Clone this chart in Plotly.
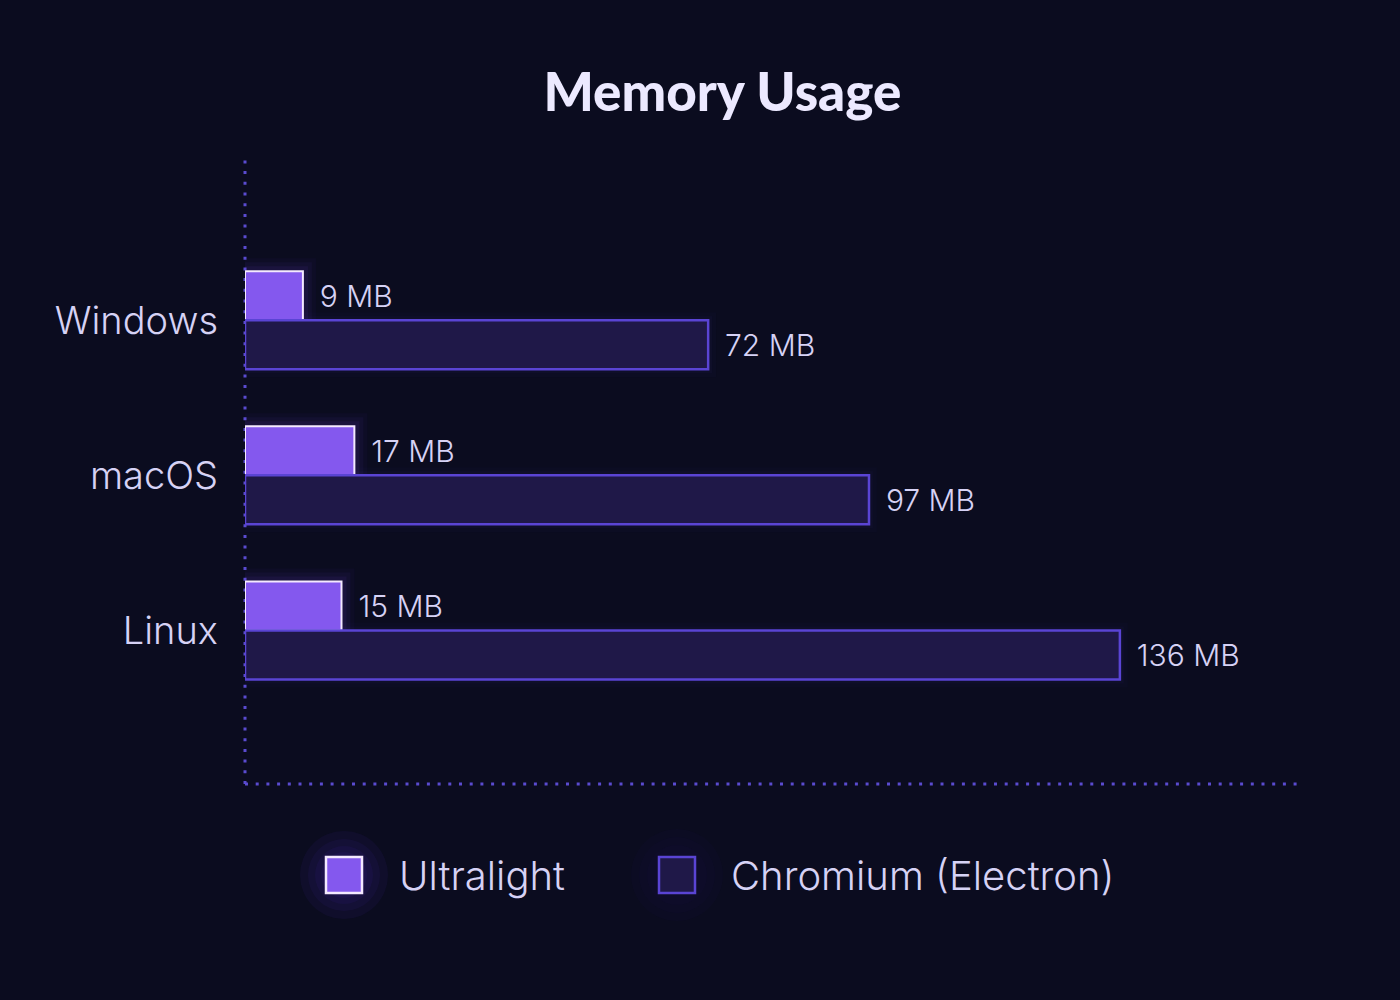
import plotly.graph_objects as go

categories = ["Windows", "macOS", "Linux"]
ultralight_mb = [9, 17, 15]
chromium_mb = [72, 97, 136]
series_names = ["Ultralight", "Chromium (Electron)"]

BG = "#0b0c1f"
TXT = "#d6d2f5"
UL_FILL = "#8458ee"
UL_LINE = "#f4e9ff"
CH_FILL = "#1f1848"
CH_LINE = "#5a44d4"
FONT = "Inter"

fig = go.Figure()

# soft glow layers (same slot as the real bars via offsetgroup)
for w, op in [(26, 0.035), (18, 0.05), (10, 0.07)]:
    fig.add_trace(go.Bar(
        y=categories, x=ultralight_mb, orientation="h", offsetgroup="ul",
        marker=dict(color="rgba(0,0,0,0)", line=dict(color=f"rgba(125,70,245,{op})", width=w)),
        hoverinfo="skip", showlegend=False, cliponaxis=False,
    ))
for w, op in [(16, 0.025), (8, 0.04)]:
    fig.add_trace(go.Bar(
        y=categories, x=chromium_mb, orientation="h", offsetgroup="ch",
        marker=dict(color="rgba(0,0,0,0)", line=dict(color=f"rgba(95,65,215,{op})", width=w)),
        hoverinfo="skip", showlegend=False, cliponaxis=False,
    ))

fig.add_trace(go.Bar(
    y=categories, x=ultralight_mb, orientation="h", name=series_names[0], offsetgroup="ul",
    marker=dict(color=UL_FILL, line=dict(color=UL_LINE, width=2)),
    texttemplate="\u00a0\u2009%{x} MB", textposition="outside",
    textfont=dict(family=FONT, size=30, color=TXT, weight=300),
    constraintext="none", cliponaxis=False, showlegend=False,
))
fig.add_trace(go.Bar(
    y=categories, x=chromium_mb, orientation="h", name=series_names[1], offsetgroup="ch",
    marker=dict(color=CH_FILL, line=dict(color=CH_LINE, width=2.5)),
    texttemplate="\u00a0\u2009%{x} MB", textposition="outside",
    textfont=dict(family=FONT, size=30, color=TXT, weight=300),
    constraintext="none", cliponaxis=False, showlegend=False,
))

fig.update_layout(
    width=1400, height=1000,
    paper_bgcolor=BG, plot_bgcolor=BG,
    margin=dict(l=245, r=100, t=155, b=216),
    barmode="group", bargap=0.368, bargroupgap=0,
    title=dict(text="Memory Usage", x=0.516, xanchor="center",
               y=0.908, yanchor="middle",
               font=dict(family="Lato", size=53, color="#ece9ff", weight=900)),
    xaxis=dict(range=[0, 164], showgrid=False, zeroline=False,
               showticklabels=False, showline=False, ticks=""),
    yaxis=dict(range=[2.99, -1.065], showgrid=False, zeroline=False,
               showline=False, ticks="", ticklabelstandoff=26,
               tickfont=dict(family=FONT, size=38, color=TXT, weight=300)),
    font=dict(family=FONT, color=TXT),
)

dot = dict(color="#5a4bd0", width=3, dash="3px,7.7px")
fig.add_shape(type="line", xref="paper", yref="paper", x0=0, x1=0, y0=0, y1=1, line=dot, layer="below")
fig.add_shape(type="line", xref="paper", yref="paper", x0=0, x1=1, y0=0, y1=0, line=dot, layer="below")

# custom legend (large squares)
def px_to_paper_x(px):
    return (px - 245) / 1055.0

def px_to_paper_y(py):
    return (784 - py) / 629.0

legend_items = [
    (series_names[0], 326, UL_FILL, UL_LINE, 397, "#5a2fd8", [44, 36, 29, 23], 0.07),
    (series_names[1], 659, CH_FILL, CH_LINE, 729, "#3a2a90", [46, 38, 30], 0.03),
]
for name, sx, fill, line, tx, gcol, radii, op in legend_items:
    cx, cy = sx + 18, 875
    for r in radii:
        fig.add_shape(type="circle", xref="paper", yref="paper",
                      x0=px_to_paper_x(cx - r), x1=px_to_paper_x(cx + r),
                      y0=px_to_paper_y(cy + r), y1=px_to_paper_y(cy - r),
                      fillcolor=gcol, opacity=op, line=dict(width=0))
    fig.add_shape(type="rect", xref="paper", yref="paper",
                  x0=px_to_paper_x(sx), x1=px_to_paper_x(sx + 36),
                  y0=px_to_paper_y(893), y1=px_to_paper_y(857),
                  fillcolor=fill, line=dict(color=line, width=2.5))
    fig.add_annotation(text=name, xref="paper", yref="paper",
                       x=px_to_paper_x(tx), y=px_to_paper_y(875),
                       xanchor="left", yanchor="middle", showarrow=False,
                       font=dict(family=FONT, size=40, color=TXT, weight=300))

fig.write_html("out.html", config={"displayModeBar": False},
               post_script="document.body.style.margin='0';document.body.style.background='" + BG + "';")
